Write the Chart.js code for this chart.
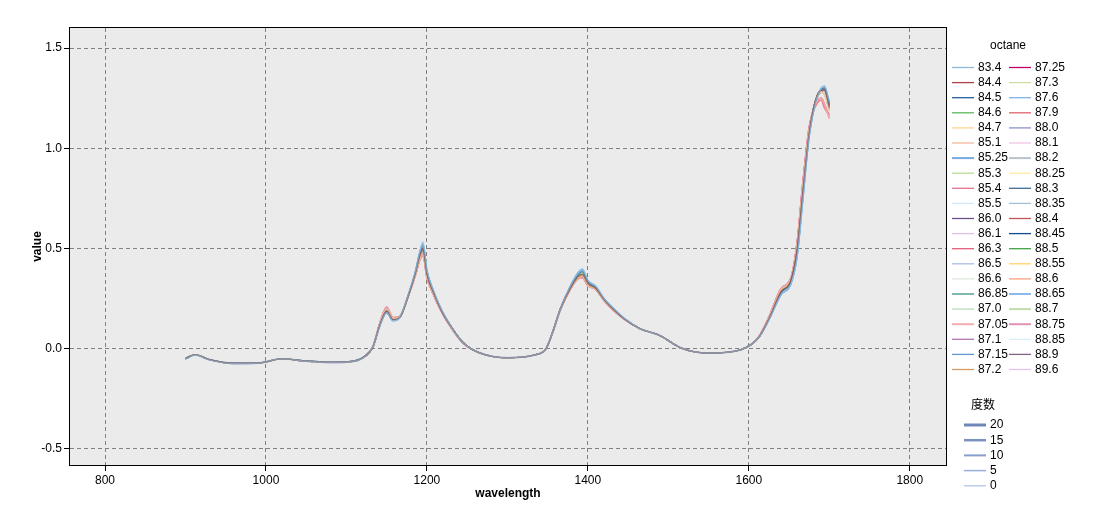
<!DOCTYPE html>
<html>
<head>
<meta charset="utf-8">
<script src="https://cdn.jsdelivr.net/npm/chart.js@4.4.1/dist/chart.umd.min.js"></script>
<style>
  html, body { margin: 0; padding: 0; background: #fff; }
  #wrap { width: 1100px; height: 532px; }
</style>
</head>
<body>
<div id="wrap"><canvas id="spectraChart" width="1100" height="532"></canvas></div>
<script>
// wavelength knots (nm) shared by every sample
const wavelength = [900, 912, 930, 960, 990, 1020, 1050, 1085, 1110, 1124, 1133, 1142, 1150, 1158, 1166, 1177, 1186, 1191, 1195, 1200, 1208, 1218, 1230, 1245, 1265, 1300, 1335, 1348, 1356, 1366, 1378, 1388, 1393, 1400, 1410, 1420, 1432, 1445, 1465, 1490, 1515, 1550, 1590, 1612, 1625, 1640, 1652, 1660, 1667, 1675, 1683, 1690, 1694, 1700];

const xTicks = [800, 1000, 1200, 1400, 1600, 1800];
const yTicks = [-0.5, 0, 0.5, 1.0, 1.5];

const octane = ['83.4', '84.4', '84.5', '84.6', '84.7', '85.1', '85.25', '85.3', '85.4', '85.5', '86.0', '86.1', '86.3', '86.5', '86.6', '86.85', '87.0', '87.05', '87.1', '87.15', '87.2',
                '87.25', '87.3', '87.6', '87.9', '88.0', '88.1', '88.2', '88.25', '88.3', '88.35', '88.4', '88.45', '88.5', '88.55', '88.6', '88.65', '88.7', '88.75', '88.85', '88.9', '89.6'];

const freqLabels = ['20', '15', '10', '5', '0'];

// absorbance per sample, one value per wavelength knot
const oct83_4 = [-0.052,-0.032,-0.056,-0.074,-0.072,-0.05,-0.062,-0.068,-0.062,-0.036,0.01,0.12,0.18,0.14,0.155,0.27,0.39,0.48,0.53,0.39,0.29,0.195,0.11,0.03,-0.02,-0.045,-0.03,0,0.08,0.2,0.31,0.38,0.395,0.34,0.31,0.25,0.2,0.152,0.1,0.065,0.005,-0.022,-0.005,0.055,0.145,0.27,0.32,0.46,0.74,1.06,1.23,1.3,1.31,1.23];
const oct84_4 = [-0.05,-0.03,-0.055,-0.073,-0.072,-0.05,-0.062,-0.068,-0.062,-0.035,0.01,0.125,0.185,0.145,0.155,0.265,0.38,0.46,0.495,0.37,0.28,0.19,0.11,0.03,-0.02,-0.045,-0.03,0,0.08,0.2,0.3,0.36,0.37,0.325,0.3,0.245,0.195,0.15,0.1,0.065,0.005,-0.022,-0.005,0.055,0.15,0.285,0.34,0.5,0.78,1.08,1.24,1.29,1.29,1.2];
const oct84_5 = [-0.048,-0.03,-0.054,-0.072,-0.071,-0.05,-0.061,-0.067,-0.061,-0.034,0.01,0.125,0.19,0.145,0.155,0.268,0.385,0.47,0.51,0.38,0.285,0.19,0.11,0.03,-0.02,-0.045,-0.03,0,0.08,0.2,0.305,0.37,0.385,0.335,0.305,0.248,0.197,0.15,0.1,0.065,0.005,-0.022,-0.005,0.055,0.148,0.28,0.335,0.49,0.77,1.07,1.235,1.295,1.3,1.22];
const oct84_6 = [-0.05,-0.03,-0.055,-0.073,-0.072,-0.05,-0.062,-0.068,-0.062,-0.035,0.01,0.125,0.18,0.145,0.155,0.265,0.38,0.46,0.49,0.37,0.28,0.19,0.11,0.03,-0.02,-0.045,-0.03,0,0.08,0.2,0.3,0.36,0.375,0.325,0.3,0.245,0.195,0.15,0.1,0.065,0.005,-0.022,-0.005,0.055,0.15,0.285,0.34,0.5,0.78,1.08,1.24,1.29,1.29,1.21];
const oct84_7 = [-0.05,-0.03,-0.055,-0.073,-0.072,-0.05,-0.062,-0.068,-0.062,-0.035,0.01,0.13,0.195,0.15,0.157,0.265,0.375,0.45,0.48,0.365,0.275,0.188,0.108,0.03,-0.02,-0.045,-0.03,0,0.08,0.198,0.298,0.355,0.365,0.32,0.298,0.243,0.193,0.15,0.1,0.065,0.005,-0.022,-0.005,0.056,0.152,0.29,0.345,0.51,0.8,1.09,1.235,1.28,1.27,1.18];
const oct85_1 = [-0.05,-0.03,-0.055,-0.073,-0.072,-0.05,-0.062,-0.068,-0.062,-0.035,0.012,0.135,0.205,0.155,0.16,0.265,0.37,0.44,0.465,0.355,0.27,0.185,0.105,0.028,-0.02,-0.045,-0.03,0,0.078,0.195,0.295,0.35,0.355,0.315,0.295,0.24,0.19,0.148,0.1,0.065,0.005,-0.022,-0.005,0.058,0.158,0.3,0.35,0.53,0.82,1.1,1.22,1.25,1.22,1.15];
const oct85_25 = [-0.05,-0.03,-0.055,-0.073,-0.072,-0.05,-0.062,-0.068,-0.062,-0.035,0.01,0.12,0.18,0.14,0.155,0.27,0.39,0.48,0.52,0.39,0.29,0.195,0.11,0.03,-0.02,-0.045,-0.03,0,0.08,0.2,0.31,0.38,0.395,0.34,0.31,0.25,0.2,0.152,0.1,0.065,0.005,-0.022,-0.005,0.055,0.145,0.27,0.32,0.46,0.74,1.06,1.23,1.29,1.3,1.23];
const oct85_3 = [-0.05,-0.03,-0.055,-0.073,-0.072,-0.05,-0.062,-0.068,-0.062,-0.035,0.01,0.13,0.195,0.15,0.157,0.265,0.375,0.45,0.49,0.365,0.275,0.188,0.108,0.03,-0.02,-0.045,-0.03,0,0.08,0.198,0.298,0.355,0.37,0.32,0.298,0.243,0.193,0.15,0.1,0.065,0.005,-0.022,-0.005,0.056,0.152,0.29,0.345,0.51,0.8,1.09,1.235,1.28,1.27,1.19];
const oct85_4 = [-0.05,-0.03,-0.055,-0.073,-0.072,-0.05,-0.062,-0.068,-0.062,-0.035,0.012,0.135,0.21,0.155,0.16,0.265,0.37,0.44,0.465,0.355,0.27,0.185,0.105,0.028,-0.02,-0.045,-0.03,0,0.078,0.195,0.295,0.35,0.355,0.315,0.295,0.24,0.19,0.148,0.1,0.065,0.005,-0.022,-0.005,0.058,0.158,0.3,0.35,0.53,0.82,1.1,1.22,1.25,1.22,1.16];
const oct85_5 = [-0.053,-0.033,-0.057,-0.074,-0.073,-0.051,-0.063,-0.069,-0.063,-0.036,0.01,0.12,0.18,0.14,0.155,0.27,0.39,0.48,0.54,0.39,0.29,0.195,0.11,0.03,-0.02,-0.045,-0.03,0,0.08,0.2,0.31,0.38,0.405,0.34,0.31,0.25,0.2,0.152,0.1,0.065,0.005,-0.022,-0.005,0.055,0.145,0.27,0.32,0.46,0.74,1.06,1.23,1.3,1.31,1.24];
const oct86_0 = [-0.05,-0.03,-0.055,-0.073,-0.072,-0.05,-0.062,-0.068,-0.062,-0.035,0.01,0.125,0.185,0.145,0.155,0.265,0.38,0.46,0.49,0.37,0.28,0.19,0.11,0.03,-0.02,-0.045,-0.03,0,0.08,0.2,0.3,0.36,0.37,0.325,0.3,0.245,0.195,0.15,0.1,0.065,0.005,-0.022,-0.005,0.055,0.15,0.285,0.34,0.5,0.78,1.08,1.24,1.29,1.29,1.21];
const oct86_1 = [-0.05,-0.03,-0.055,-0.073,-0.072,-0.05,-0.062,-0.068,-0.062,-0.035,0.012,0.135,0.205,0.155,0.16,0.265,0.37,0.44,0.47,0.355,0.27,0.185,0.105,0.028,-0.02,-0.045,-0.03,0,0.078,0.195,0.295,0.35,0.355,0.315,0.295,0.24,0.19,0.148,0.1,0.065,0.005,-0.022,-0.005,0.058,0.158,0.3,0.35,0.53,0.82,1.1,1.22,1.25,1.22,1.15];
const oct86_3 = [-0.05,-0.03,-0.055,-0.073,-0.072,-0.05,-0.062,-0.068,-0.062,-0.035,0.012,0.135,0.2,0.152,0.158,0.265,0.372,0.445,0.475,0.36,0.272,0.186,0.106,0.028,-0.02,-0.045,-0.03,0,0.078,0.196,0.296,0.352,0.358,0.317,0.296,0.241,0.191,0.149,0.1,0.065,0.005,-0.022,-0.005,0.058,0.158,0.3,0.352,0.535,0.83,1.11,1.21,1.24,1.2,1.17];
const oct86_5 = [-0.048,-0.03,-0.054,-0.072,-0.071,-0.05,-0.061,-0.067,-0.061,-0.034,0.01,0.125,0.19,0.145,0.155,0.268,0.385,0.47,0.52,0.38,0.285,0.19,0.11,0.03,-0.02,-0.045,-0.03,0,0.08,0.2,0.305,0.37,0.385,0.335,0.305,0.248,0.197,0.15,0.1,0.065,0.005,-0.022,-0.005,0.055,0.148,0.28,0.335,0.49,0.77,1.07,1.235,1.295,1.3,1.22];
const oct86_6 = [-0.05,-0.03,-0.055,-0.073,-0.072,-0.05,-0.062,-0.068,-0.062,-0.035,0.01,0.13,0.195,0.15,0.157,0.265,0.375,0.45,0.48,0.365,0.275,0.188,0.108,0.03,-0.02,-0.045,-0.03,0,0.08,0.198,0.298,0.355,0.365,0.32,0.298,0.243,0.193,0.15,0.1,0.065,0.005,-0.022,-0.005,0.056,0.152,0.29,0.345,0.51,0.8,1.09,1.235,1.28,1.27,1.19];
const oct86_85 = [-0.05,-0.03,-0.055,-0.073,-0.072,-0.05,-0.062,-0.068,-0.062,-0.035,0.01,0.125,0.185,0.145,0.155,0.265,0.38,0.46,0.485,0.37,0.28,0.19,0.11,0.03,-0.02,-0.045,-0.03,0,0.08,0.2,0.3,0.36,0.37,0.325,0.3,0.245,0.195,0.15,0.1,0.065,0.005,-0.022,-0.005,0.055,0.15,0.285,0.34,0.5,0.78,1.08,1.24,1.29,1.29,1.21];
const oct87_0 = [-0.048,-0.03,-0.054,-0.072,-0.071,-0.05,-0.061,-0.067,-0.061,-0.034,0.01,0.125,0.19,0.145,0.155,0.268,0.385,0.47,0.51,0.38,0.285,0.19,0.11,0.03,-0.02,-0.045,-0.03,0,0.08,0.2,0.305,0.37,0.39,0.335,0.305,0.248,0.197,0.15,0.1,0.065,0.005,-0.022,-0.005,0.055,0.148,0.28,0.335,0.49,0.77,1.07,1.235,1.295,1.3,1.22];
const oct87_05 = [-0.05,-0.03,-0.055,-0.073,-0.072,-0.05,-0.062,-0.068,-0.062,-0.035,0.012,0.135,0.2,0.155,0.16,0.265,0.37,0.44,0.47,0.355,0.27,0.185,0.105,0.028,-0.02,-0.045,-0.03,0,0.078,0.195,0.295,0.35,0.355,0.315,0.295,0.24,0.19,0.148,0.1,0.065,0.005,-0.022,-0.005,0.058,0.158,0.3,0.35,0.53,0.82,1.1,1.22,1.25,1.22,1.15];
const oct87_1 = [-0.05,-0.03,-0.055,-0.073,-0.072,-0.05,-0.062,-0.068,-0.062,-0.035,0.01,0.13,0.2,0.15,0.157,0.265,0.375,0.45,0.48,0.365,0.275,0.188,0.108,0.03,-0.02,-0.045,-0.03,0,0.08,0.198,0.298,0.355,0.365,0.32,0.298,0.243,0.193,0.15,0.1,0.065,0.005,-0.022,-0.005,0.056,0.152,0.29,0.345,0.51,0.8,1.09,1.235,1.28,1.27,1.19];
const oct87_15 = [-0.05,-0.03,-0.055,-0.073,-0.072,-0.05,-0.062,-0.068,-0.062,-0.035,0.01,0.12,0.18,0.14,0.155,0.27,0.39,0.48,0.525,0.39,0.29,0.195,0.11,0.03,-0.02,-0.045,-0.03,0,0.08,0.2,0.31,0.38,0.395,0.34,0.31,0.25,0.2,0.152,0.1,0.065,0.005,-0.022,-0.005,0.055,0.145,0.27,0.32,0.46,0.74,1.06,1.23,1.3,1.31,1.23];
const oct87_2 = [-0.05,-0.03,-0.055,-0.073,-0.072,-0.05,-0.062,-0.068,-0.062,-0.035,0.01,0.125,0.185,0.145,0.155,0.265,0.38,0.46,0.49,0.37,0.28,0.19,0.11,0.03,-0.02,-0.045,-0.03,0,0.08,0.2,0.3,0.36,0.37,0.325,0.3,0.245,0.195,0.15,0.1,0.065,0.005,-0.022,-0.005,0.055,0.15,0.285,0.34,0.5,0.78,1.08,1.24,1.29,1.29,1.2];
const oct87_25 = [-0.05,-0.03,-0.055,-0.073,-0.072,-0.05,-0.062,-0.068,-0.062,-0.035,0.01,0.125,0.185,0.145,0.155,0.265,0.38,0.46,0.5,0.37,0.28,0.19,0.11,0.03,-0.02,-0.045,-0.03,0,0.08,0.2,0.3,0.36,0.37,0.325,0.3,0.245,0.195,0.15,0.1,0.065,0.005,-0.022,-0.005,0.055,0.15,0.285,0.34,0.5,0.78,1.08,1.24,1.28,1.29,1.21];
const oct87_3 = [-0.048,-0.03,-0.054,-0.072,-0.071,-0.05,-0.061,-0.067,-0.061,-0.034,0.01,0.125,0.19,0.145,0.155,0.268,0.385,0.47,0.51,0.38,0.285,0.19,0.11,0.03,-0.02,-0.045,-0.03,0,0.08,0.2,0.305,0.37,0.385,0.335,0.305,0.248,0.197,0.15,0.1,0.065,0.005,-0.022,-0.005,0.055,0.148,0.28,0.335,0.49,0.77,1.07,1.235,1.295,1.3,1.22];
const oct87_6 = [-0.052,-0.032,-0.056,-0.074,-0.072,-0.05,-0.062,-0.068,-0.062,-0.036,0.01,0.12,0.18,0.14,0.155,0.27,0.39,0.48,0.535,0.39,0.29,0.195,0.11,0.03,-0.02,-0.045,-0.03,0,0.08,0.2,0.31,0.38,0.4,0.34,0.31,0.25,0.2,0.152,0.1,0.065,0.005,-0.022,-0.005,0.055,0.145,0.27,0.32,0.46,0.74,1.06,1.23,1.3,1.31,1.23];
const oct87_9 = [-0.05,-0.03,-0.055,-0.073,-0.072,-0.05,-0.062,-0.068,-0.062,-0.035,0.012,0.135,0.205,0.155,0.16,0.265,0.37,0.44,0.46,0.355,0.27,0.185,0.105,0.028,-0.02,-0.045,-0.03,0,0.078,0.195,0.295,0.35,0.355,0.315,0.295,0.24,0.19,0.148,0.1,0.065,0.005,-0.022,-0.005,0.058,0.158,0.3,0.35,0.53,0.82,1.1,1.22,1.25,1.22,1.15];
const oct88_0 = [-0.05,-0.03,-0.055,-0.073,-0.072,-0.05,-0.062,-0.068,-0.062,-0.035,0.01,0.13,0.195,0.15,0.157,0.265,0.375,0.45,0.485,0.365,0.275,0.188,0.108,0.03,-0.02,-0.045,-0.03,0,0.08,0.198,0.298,0.355,0.365,0.32,0.298,0.243,0.193,0.15,0.1,0.065,0.005,-0.022,-0.005,0.056,0.152,0.29,0.345,0.51,0.8,1.09,1.235,1.28,1.27,1.19];
const oct88_1 = [-0.05,-0.03,-0.055,-0.073,-0.072,-0.05,-0.062,-0.068,-0.062,-0.035,0.012,0.135,0.2,0.152,0.158,0.265,0.372,0.445,0.475,0.36,0.272,0.186,0.106,0.028,-0.02,-0.045,-0.03,0,0.078,0.196,0.296,0.352,0.358,0.317,0.296,0.241,0.191,0.149,0.1,0.065,0.005,-0.022,-0.005,0.058,0.158,0.3,0.352,0.535,0.83,1.11,1.21,1.24,1.2,1.16];
const oct88_2 = [-0.05,-0.03,-0.055,-0.073,-0.072,-0.05,-0.062,-0.068,-0.062,-0.035,0.01,0.125,0.185,0.145,0.155,0.265,0.38,0.46,0.49,0.37,0.28,0.19,0.11,0.03,-0.02,-0.045,-0.03,0,0.08,0.2,0.3,0.36,0.37,0.325,0.3,0.245,0.195,0.15,0.1,0.065,0.005,-0.022,-0.005,0.055,0.15,0.285,0.34,0.5,0.78,1.08,1.24,1.29,1.29,1.21];
const oct88_25 = [-0.048,-0.03,-0.054,-0.072,-0.071,-0.05,-0.061,-0.067,-0.061,-0.034,0.01,0.125,0.19,0.145,0.155,0.268,0.385,0.47,0.51,0.38,0.285,0.19,0.11,0.03,-0.02,-0.045,-0.03,0,0.08,0.2,0.305,0.37,0.385,0.335,0.305,0.248,0.197,0.15,0.1,0.065,0.005,-0.022,-0.005,0.055,0.148,0.28,0.335,0.49,0.77,1.07,1.235,1.295,1.3,1.21];
const oct88_3 = [-0.05,-0.03,-0.055,-0.073,-0.072,-0.05,-0.062,-0.068,-0.062,-0.035,0.01,0.13,0.195,0.15,0.157,0.265,0.375,0.45,0.48,0.365,0.275,0.188,0.108,0.03,-0.02,-0.045,-0.03,0,0.08,0.198,0.298,0.355,0.365,0.32,0.298,0.243,0.193,0.15,0.1,0.065,0.005,-0.022,-0.005,0.056,0.152,0.29,0.345,0.51,0.8,1.09,1.235,1.28,1.27,1.19];
const oct88_35 = [-0.052,-0.032,-0.056,-0.074,-0.072,-0.05,-0.062,-0.068,-0.062,-0.036,0.01,0.12,0.18,0.14,0.155,0.27,0.39,0.48,0.53,0.39,0.29,0.195,0.11,0.03,-0.02,-0.045,-0.03,0,0.08,0.2,0.31,0.38,0.395,0.34,0.31,0.25,0.2,0.152,0.1,0.065,0.005,-0.022,-0.005,0.055,0.145,0.27,0.32,0.46,0.74,1.06,1.23,1.3,1.31,1.23];
const oct88_4 = [-0.05,-0.03,-0.055,-0.073,-0.072,-0.05,-0.062,-0.068,-0.062,-0.035,0.012,0.135,0.2,0.155,0.16,0.265,0.37,0.44,0.47,0.355,0.27,0.185,0.105,0.028,-0.02,-0.045,-0.03,0,0.078,0.195,0.295,0.35,0.355,0.315,0.295,0.24,0.19,0.148,0.1,0.065,0.005,-0.022,-0.005,0.058,0.158,0.3,0.35,0.53,0.82,1.1,1.22,1.25,1.22,1.15];
const oct88_45 = [-0.05,-0.03,-0.055,-0.073,-0.072,-0.05,-0.062,-0.068,-0.062,-0.035,0.01,0.125,0.185,0.145,0.155,0.265,0.38,0.46,0.495,0.37,0.28,0.19,0.11,0.03,-0.02,-0.045,-0.03,0,0.08,0.2,0.3,0.36,0.37,0.325,0.3,0.245,0.195,0.15,0.1,0.065,0.005,-0.022,-0.005,0.055,0.15,0.285,0.34,0.5,0.78,1.08,1.24,1.29,1.29,1.21];
const oct88_5 = [-0.048,-0.03,-0.054,-0.072,-0.071,-0.05,-0.061,-0.067,-0.061,-0.034,0.01,0.125,0.19,0.145,0.155,0.268,0.385,0.47,0.505,0.38,0.285,0.19,0.11,0.03,-0.02,-0.045,-0.03,0,0.08,0.2,0.305,0.37,0.385,0.335,0.305,0.248,0.197,0.15,0.1,0.065,0.005,-0.022,-0.005,0.055,0.148,0.28,0.335,0.49,0.77,1.07,1.235,1.295,1.3,1.22];
const oct88_55 = [-0.05,-0.03,-0.055,-0.073,-0.072,-0.05,-0.062,-0.068,-0.062,-0.035,0.01,0.13,0.195,0.15,0.157,0.265,0.375,0.45,0.48,0.365,0.275,0.188,0.108,0.03,-0.02,-0.045,-0.03,0,0.08,0.198,0.298,0.355,0.365,0.32,0.298,0.243,0.193,0.15,0.1,0.065,0.005,-0.022,-0.005,0.056,0.152,0.29,0.345,0.51,0.8,1.09,1.235,1.28,1.27,1.2];
const oct88_6 = [-0.05,-0.03,-0.055,-0.073,-0.072,-0.05,-0.062,-0.068,-0.062,-0.035,0.012,0.135,0.2,0.152,0.158,0.265,0.372,0.445,0.475,0.36,0.272,0.186,0.106,0.028,-0.02,-0.045,-0.03,0,0.078,0.196,0.296,0.352,0.358,0.317,0.296,0.241,0.191,0.149,0.1,0.065,0.005,-0.022,-0.005,0.058,0.158,0.3,0.352,0.535,0.83,1.11,1.21,1.24,1.2,1.17];
const oct88_65 = [-0.05,-0.03,-0.055,-0.073,-0.072,-0.05,-0.062,-0.068,-0.062,-0.035,0.01,0.12,0.18,0.14,0.155,0.27,0.39,0.48,0.52,0.39,0.29,0.195,0.11,0.03,-0.02,-0.045,-0.03,0,0.08,0.2,0.31,0.38,0.395,0.34,0.31,0.25,0.2,0.152,0.1,0.065,0.005,-0.022,-0.005,0.055,0.145,0.27,0.32,0.46,0.74,1.06,1.23,1.3,1.31,1.23];
const oct88_7 = [-0.048,-0.03,-0.054,-0.072,-0.071,-0.05,-0.061,-0.067,-0.061,-0.034,0.01,0.125,0.19,0.145,0.155,0.268,0.385,0.47,0.51,0.38,0.285,0.19,0.11,0.03,-0.02,-0.045,-0.03,0,0.08,0.2,0.305,0.37,0.385,0.335,0.305,0.248,0.197,0.15,0.1,0.065,0.005,-0.022,-0.005,0.055,0.148,0.28,0.335,0.49,0.77,1.07,1.235,1.295,1.3,1.22];
const oct88_75 = [-0.05,-0.03,-0.055,-0.073,-0.072,-0.05,-0.062,-0.068,-0.062,-0.035,0.012,0.135,0.205,0.155,0.16,0.265,0.37,0.44,0.465,0.355,0.27,0.185,0.105,0.028,-0.02,-0.045,-0.03,0,0.078,0.195,0.295,0.35,0.355,0.315,0.295,0.24,0.19,0.148,0.1,0.065,0.005,-0.022,-0.005,0.058,0.158,0.3,0.35,0.53,0.82,1.1,1.22,1.25,1.22,1.15];
const oct88_85 = [-0.053,-0.033,-0.057,-0.074,-0.073,-0.051,-0.063,-0.069,-0.063,-0.036,0.01,0.12,0.18,0.14,0.155,0.27,0.39,0.48,0.545,0.39,0.29,0.195,0.11,0.03,-0.02,-0.045,-0.03,0,0.08,0.2,0.31,0.38,0.4,0.34,0.31,0.25,0.2,0.152,0.1,0.065,0.005,-0.022,-0.005,0.055,0.145,0.27,0.32,0.46,0.74,1.06,1.23,1.3,1.31,1.24];
const oct88_9 = [-0.05,-0.03,-0.055,-0.073,-0.072,-0.05,-0.062,-0.068,-0.062,-0.035,0.01,0.125,0.185,0.145,0.155,0.265,0.38,0.46,0.49,0.37,0.28,0.19,0.11,0.03,-0.02,-0.045,-0.03,0,0.08,0.2,0.3,0.36,0.37,0.325,0.3,0.245,0.195,0.15,0.1,0.065,0.005,-0.022,-0.005,0.055,0.15,0.285,0.34,0.5,0.78,1.08,1.24,1.29,1.29,1.21];
const oct89_6 = [-0.05,-0.03,-0.055,-0.073,-0.072,-0.05,-0.062,-0.068,-0.062,-0.035,0.012,0.135,0.21,0.152,0.158,0.265,0.372,0.445,0.475,0.36,0.272,0.186,0.106,0.028,-0.02,-0.045,-0.03,0,0.078,0.196,0.296,0.352,0.358,0.317,0.296,0.241,0.191,0.149,0.1,0.065,0.005,-0.022,-0.005,0.058,0.158,0.3,0.352,0.535,0.83,1.11,1.21,1.24,1.2,1.17];

const spectra = [oct83_4, oct84_4, oct84_5, oct84_6, oct84_7, oct85_1, oct85_25, oct85_3, oct85_4, oct85_5, oct86_0, oct86_1, oct86_3, oct86_5, oct86_6, oct86_85, oct87_0, oct87_05, oct87_1, oct87_15, oct87_2,
                 oct87_25, oct87_3, oct87_6, oct87_9, oct88_0, oct88_1, oct88_2, oct88_25, oct88_3, oct88_35, oct88_4, oct88_45, oct88_5, oct88_55, oct88_6, oct88_65, oct88_7, oct88_75, oct88_85, oct88_9, oct89_6];

// styling
const octaneColors = ['#8dbbd9', '#b2404c', '#23609e', '#5cb85c', '#ffd58f', '#f6b89f', '#74a9e3', '#b9dc94', '#e2728c', '#d3e9f9', '#6d4f8e', '#e3bde5', '#e55c7c', '#a9bbe4', '#dde9da', '#3c9484', '#badcbb', '#f5abb2', '#b374b4', '#6494cb', '#d49a64',
                      '#c2006b', '#cadea3', '#83b2ea', '#e3636f', '#8b93cb', '#f2c4e3', '#bac2cd', '#ffeaa3', '#3e6c93', '#a1c3da', '#c25555', '#0d4c8c', '#43a443', '#ffd263', '#fa9f7f', '#4d92e3', '#c3dcab', '#e293b3', '#daeffa', '#826383', '#e3c4f3'];
const thickOnes = ['85.25', '87.05', '88.2', '88.7', '88.75'];
const freqWidths = [3, 2.5, 2, 1.5, 1.2];
const freqColors = ['#6f87b8', '#7a91c1', '#889ecb', '#98aed6', '#abc1e6'];

const FONT = '"Liberation Sans", Arial, sans-serif';

const datasets = octane.map((label, i) => ({
    label: label,
    data: wavelength.map((w, j) => ({ x: w, y: spectra[i][j] })),
    borderColor: octaneColors[i] + 'aa',
    borderWidth: thickOnes.includes(label) ? 1.6 : 1.2,
    pointRadius: 0,
    fill: false,
    cubicInterpolationMode: 'monotone'
}));

// grey plot area and black frame
const framePlugin = {
    id: 'frame',
    beforeDraw(chart) {
        const {ctx, chartArea: a} = chart;
        ctx.save();
        ctx.fillStyle = '#ebebeb';
        ctx.fillRect(a.left, a.top, a.right - a.left, a.bottom - a.top);
        ctx.restore();
    },
    afterDraw(chart) {
        const {ctx, chartArea: a} = chart;
        ctx.save();
        ctx.setLineDash([]);
        ctx.strokeStyle = '#000';
        ctx.lineWidth = 1;
        ctx.strokeRect(a.left - 0.5, a.top - 0.5, a.right - a.left + 1, a.bottom - a.top + 1);
        ctx.restore();
    }
};

// the two legends on the right
const sideLegend = {
    id: 'sideLegend',
    afterDraw(chart) {
        const ctx = chart.ctx;
        ctx.save();
        ctx.setLineDash([]);
        ctx.font = '12px ' + FONT;
        ctx.fillStyle = '#000';
        ctx.textBaseline = 'middle';
        ctx.textAlign = 'center';
        ctx.fillText('octane', 1008, 46);
        ctx.textAlign = 'left';
        octane.forEach((label, i) => {
            const col = i < 21 ? 0 : 1;
            const row = i % 21;
            const x = col === 0 ? 952 : 1009;
            const y = 67.5 + row * 15.1;
            ctx.strokeStyle = octaneColors[i];
            ctx.lineWidth = thickOnes.includes(label) ? 2 : 1.3;
            ctx.beginPath();
            ctx.moveTo(x, y);
            ctx.lineTo(x + 22, y);
            ctx.stroke();
            ctx.fillText(label, x + 26, y);
        });

        ctx.font = '12px "Noto Sans CJK SC", ' + FONT;
        ctx.textAlign = 'center';
        ctx.fillText('度数', 983, 404);
        ctx.font = '12px ' + FONT;
        ctx.textAlign = 'left';
        freqLabels.forEach((label, i) => {
            const y = 425 + i * 15.2;
            ctx.strokeStyle = freqColors[i];
            ctx.lineWidth = freqWidths[i];
            ctx.beginPath();
            ctx.moveTo(964, y);
            ctx.lineTo(986, y);
            ctx.stroke();
            ctx.fillText(label, 990, y);
        });
        ctx.restore();
    }
};

const ctx = document.getElementById('spectraChart').getContext('2d');
new Chart(ctx, {
    type: 'line',
    data: { datasets: datasets },
    options: {
        responsive: false,
        animation: false,
        devicePixelRatio: 1,
        layout: { padding: { top: 28, right: 154, left: 0, bottom: 0 } },
        plugins: {
            legend: { display: false },
            tooltip: { enabled: false }
        },
        scales: {
            x: {
                type: 'linear',
                min: 756.5,
                max: 1845,
                afterBuildTicks: scale => { scale.ticks = xTicks.map(v => ({ value: v })); },
                afterFit: scale => { scale.height = 67; },
                ticks: { color: '#000', font: { size: 12, family: FONT }, padding: 2, maxRotation: 0, autoSkip: false, callback: v => String(v) },
                grid: { color: '#808080', lineWidth: 1, tickColor: '#000', tickLength: 6, tickBorderDash: [] },
                border: { display: false, dash: [4, 3] },
                title: { display: true, text: 'wavelength', color: '#000', font: { size: 12, weight: 'bold', family: FONT }, padding: { bottom: 31 } }
            },
            y: {
                type: 'linear',
                min: -0.58,
                max: 1.6,
                afterBuildTicks: scale => { scale.ticks = yTicks.map(v => ({ value: v })); },
                afterFit: scale => { scale.width = 70; },
                ticks: { color: '#000', font: { size: 12, family: FONT }, padding: 2, callback: v => v.toFixed(1) },
                grid: { color: '#808080', lineWidth: 1, tickColor: '#000', tickLength: 6, tickBorderDash: [] },
                border: { display: false, dash: [4, 3] },
                title: { display: true, text: 'value', color: '#000', font: { size: 12, weight: 'bold', family: FONT }, padding: { top: 30 } }
            }
        }
    },
    plugins: [framePlugin, sideLegend]
});
</script>
</body>
</html>
